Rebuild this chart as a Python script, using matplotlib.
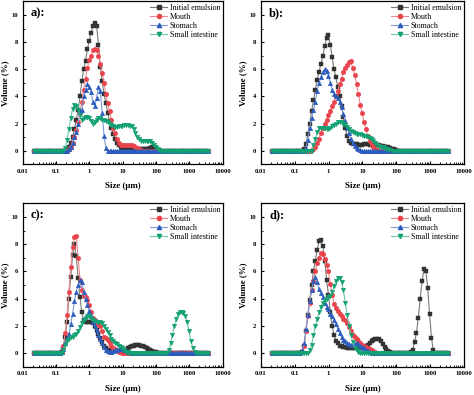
import matplotlib
matplotlib.use("Agg")
import matplotlib.pyplot as plt
from matplotlib.ticker import LogLocator, NullFormatter, FixedLocator, MultipleLocator

plt.rcParams['font.family'] = ['Liberation Serif', 'DejaVu Serif']

# Size classes (µm), laser-diffraction instrument grid
sizes = [0.02151, 0.02444, 0.02777, 0.03155, 0.03584, 0.04073, 0.04627, 0.05257, 0.05973, 0.06786,
         0.07711, 0.08761, 0.09952, 0.1131, 0.1285, 0.1460, 0.1659, 0.1884, 0.2141, 0.2432,
         0.2764, 0.3140, 0.3568, 0.4053, 0.4605, 0.5232, 0.5944, 0.6754, 0.7674, 0.8719,
         0.9905, 1.125, 1.279, 1.453, 1.651, 1.875, 2.131, 2.421, 2.750, 3.125,
         3.550, 4.034, 4.583, 5.207, 5.916, 6.721, 7.637, 8.677, 9.858, 11.20,
         12.73, 14.46, 16.43, 18.66, 21.21, 24.09, 27.37, 31.10, 35.33, 40.14,
         45.61, 51.82, 58.88, 66.90, 76.00, 86.36, 98.11, 111.5, 126.7, 143.9,
         163.5, 185.8, 211.1, 239.8, 272.5, 309.6, 351.8, 399.7, 454.1, 515.9,
         586.2, 666.0, 756.7, 859.7, 976.5, 1110, 1261, 1432, 1627, 1849,
         2101, 2387, 2712, 3081, 3500]

series_names = ["Initial emulsion", "Mouth", "Stomach", "Small intestine"]
panel_labels = ["a):", "b):", "c):", "d):"]
x_tick_values = [0.01, 0.1, 1, 10, 100, 1000, 10000]
x_tick_labels = ["0.01", "0.1", "1", "10", "100", "1000", "10000"]
y_tick_values = [0, 2, 4, 6, 8, 10]

# ---------------- panel a ----------------
initial_a = [0, 0, 0, 0, 0, 0, 0, 0, 0, 0, 0, 0, 0, 0, 0, 0, 0, 0, 0.1,
             0.3, 0.6, 1.0, 1.6, 2.3, 3.0, 4.0, 5.1, 6.0, 6.6, 7.5, 8.1, 8.7, 9.2, 9.4, 9.2, 7.8, 6.2, 5.1,
             4.2, 3.5, 2.8, 2.2, 1.7, 1.2, 0.9, 0.6, 0.4, 0.3, 0.2, 0.15, 0.1, 0.1, 0.1, 0.1, 0.1, 0.1, 0.1,
             0.1, 0.1, 0.1, 0.1, 0.1, 0.1, 0.2, 0.25, 0.25, 0.15, 0.05, 0, 0, 0, 0, 0, 0, 0, 0,
             0, 0, 0, 0, 0, 0, 0, 0, 0, 0, 0, 0, 0, 0, 0, 0, 0, 0, 0]
mouth_a = [0, 0, 0, 0, 0, 0, 0, 0, 0, 0, 0, 0, 0, 0, 0, 0, 0, 0, 0,
           0.1, 0.3, 0.6, 1.0, 1.5, 2.1, 2.8, 3.6, 4.5, 5.3, 6.1, 6.7, 7.0, 7.4, 7.5, 7.4, 7.0, 6.4, 5.7,
           5.0, 4.2, 3.5, 2.9, 2.3, 1.7, 1.3, 0.9, 0.6, 0.45, 0.4, 0.4, 0.4, 0.45, 0.45, 0.4, 0.35, 0.3, 0.2,
           0.1, 0.05, 0, 0, 0, 0, 0, 0, 0, 0, 0, 0, 0, 0, 0, 0, 0, 0, 0,
           0, 0, 0, 0, 0, 0, 0, 0, 0, 0, 0, 0, 0, 0, 0, 0, 0, 0, 0]
stomach_a = [0, 0, 0, 0, 0, 0, 0, 0, 0, 0, 0, 0, 0, 0, 0, 0, 0, 0, 0,
             0.1, 0.3, 0.6, 1.0, 1.4, 2.0, 2.9, 3.0, 4.0, 4.5, 4.9, 4.7, 4.3, 3.6, 3.3, 3.9, 4.7, 4.4, 2.8,
             1.1, 0.2, 0, 0, 0, 0, 0, 0, 0, 0, 0, 0, 0, 0, 0, 0, 0, 0, 0,
             0, 0, 0, 0, 0, 0, 0, 0, 0, 0, 0, 0, 0, 0, 0, 0, 0, 0, 0,
             0, 0, 0, 0, 0, 0, 0, 0, 0, 0, 0, 0, 0, 0, 0, 0, 0, 0, 0]
intestine_a = [0, 0, 0, 0, 0, 0, 0, 0, 0, 0, 0, 0, 0, 0, 0, 0, 0, 0.2, 0.8,
               1.6, 2.4, 3.1, 3.4, 3.3, 3.0, 2.6, 2.3, 2.4, 2.5, 2.5, 2.4, 2.2, 2.0, 2.1, 2.3, 2.4, 2.4, 2.3,
               2.3, 2.2, 2.1, 2.0, 1.9, 1.8, 1.75, 1.75, 1.8, 1.8, 1.85, 1.9, 1.9, 1.9, 1.85, 1.8, 1.6, 1.3, 1.0,
               0.85, 0.75, 0.7, 0.7, 0.75, 0.75, 0.7, 0.6, 0.45, 0.3, 0.15, 0.05, 0, 0, 0, 0, 0, 0, 0,
               0, 0, 0, 0, 0, 0, 0, 0, 0, 0, 0, 0, 0, 0, 0, 0, 0, 0, 0]

# ---------------- panel b ----------------
initial_b = [0, 0, 0, 0, 0, 0, 0, 0, 0, 0, 0, 0, 0, 0, 0, 0, 0, 0.1, 0.5,
             1.2, 2.0, 2.9, 3.7, 4.5, 5.2, 5.8, 6.4, 7.0, 7.7, 8.3, 8.5, 7.8, 6.9, 6.0, 5.4, 4.7, 4.0, 3.3,
             2.5, 1.7, 1.1, 0.75, 0.6, 0.5, 0.5, 0.5, 0.45, 0.45, 0.45, 0.5, 0.5, 0.5, 0.45, 0.45, 0.45, 0.4, 0.4,
             0.4, 0.35, 0.35, 0.3, 0.3, 0.25, 0.2, 0.15, 0.1, 0.05, 0, 0, 0, 0, 0, 0, 0, 0, 0,
             0, 0, 0, 0, 0, 0, 0, 0, 0, 0, 0, 0, 0, 0, 0, 0, 0, 0, 0]
mouth_b = [0, 0, 0, 0, 0, 0, 0, 0, 0, 0, 0, 0, 0, 0, 0, 0, 0, 0, 0,
           0, 0, 0.05, 0.15, 0.3, 0.6, 0.9, 1.3, 1.7, 2.0, 2.3, 2.6, 2.9, 3.3, 3.6, 4.0, 4.4, 4.9, 5.3,
           5.8, 6.1, 6.3, 6.55, 6.6, 6.1, 5.6, 4.9, 4.2, 3.4, 2.8, 2.1, 1.6, 1.05, 0.7, 0.45, 0.3, 0.15, 0.05,
           0, 0, 0, 0, 0, 0, 0, 0, 0, 0, 0, 0, 0, 0, 0, 0, 0, 0, 0,
           0, 0, 0, 0, 0, 0, 0, 0, 0, 0, 0, 0, 0, 0, 0, 0, 0, 0, 0]
stomach_b = [0, 0, 0, 0, 0, 0, 0, 0, 0, 0, 0, 0, 0, 0, 0, 0, 0, 0, 0.2,
             0.8, 1.7, 2.4, 3.0, 3.6, 4.4, 5.0, 5.4, 5.8, 6.0, 5.9, 5.5, 5.0, 4.5, 4.2, 4.0, 3.9, 3.6, 3.2,
             2.7, 2.2, 1.7, 1.3, 0.9, 0.6, 0.35, 0.2, 0.1, 0.05, 0, 0, 0, 0, 0, 0, 0, 0, 0,
             0, 0, 0, 0, 0, 0, 0, 0, 0, 0, 0, 0, 0, 0, 0, 0, 0, 0, 0,
             0, 0, 0, 0, 0, 0, 0, 0, 0, 0, 0, 0, 0, 0, 0, 0, 0, 0, 0]
intestine_b = [0, 0, 0, 0, 0, 0, 0, 0, 0, 0, 0, 0, 0, 0, 0, 0, 0, 0, 0,
               0, 0, 0, 0.4, 0.9, 1.4, 1.65, 1.7, 1.7, 1.65, 1.6, 1.6, 1.7, 1.8, 1.9, 2.0, 2.1, 2.15, 2.1,
               2.0, 1.9, 1.75, 1.6, 1.45, 1.35, 1.3, 1.25, 1.2, 1.2, 1.15, 1.1, 1.05, 1.0, 0.95, 0.85, 0.7, 0.6, 0.45,
               0.35, 0.3, 0.25, 0.2, 0.15, 0.1, 0.05, 0, 0, 0, 0, 0, 0, 0, 0, 0, 0, 0, 0,
               0, 0, 0, 0, 0, 0, 0, 0, 0, 0, 0, 0, 0, 0, 0, 0, 0, 0, 0]

# ---------------- panel c ----------------
initial_c = [0, 0, 0, 0, 0, 0, 0, 0, 0, 0, 0, 0, 0, 0, 0, 0.1, 0.4, 1.2, 2.3,
             4.0, 5.6, 7.2, 8.0, 7.1, 5.5, 4.1, 3.0, 2.4, 2.3, 2.3, 2.3, 2.3, 2.2, 2.0, 1.7, 1.4, 1.1, 0.8,
             0.55, 0.35, 0.25, 0.2, 0.15, 0.15, 0.15, 0.15, 0.15, 0.15, 0.2, 0.2, 0.25, 0.35, 0.45, 0.5, 0.55, 0.58, 0.6,
             0.58, 0.55, 0.5, 0.45, 0.4, 0.3, 0.25, 0.15, 0.1, 0.05, 0, 0, 0, 0, 0, 0, 0, 0, 0,
             0, 0, 0, 0, 0, 0, 0, 0, 0, 0, 0, 0, 0, 0, 0, 0, 0, 0, 0]
mouth_c = [0, 0, 0, 0, 0, 0, 0, 0, 0, 0, 0, 0, 0, 0, 0, 0.1, 0.5, 1.5, 2.8,
           4.5, 6.3, 7.8, 8.5, 8.6, 7.0, 5.4, 4.6, 4.2, 4.1, 3.9, 3.5, 3.0, 2.6, 2.4, 2.2, 2.1, 2.0, 1.6,
           1.2, 1.1, 0.95, 0.75, 0.55, 0.4, 0.3, 0.2, 0.1, 0.05, 0, 0, 0, 0, 0, 0, 0, 0, 0,
           0, 0, 0, 0, 0, 0, 0, 0, 0, 0, 0, 0, 0, 0, 0, 0, 0, 0, 0,
           0, 0, 0, 0, 0, 0, 0, 0, 0, 0, 0, 0, 0, 0, 0, 0, 0, 0, 0]
stomach_c = [0, 0, 0, 0, 0, 0, 0, 0, 0, 0, 0, 0, 0, 0, 0, 0.1, 0.3, 0.7, 1.1,
             1.4, 2.1, 2.9, 3.8, 4.5, 5.0, 5.4, 5.2, 4.5, 4.0, 3.5, 3.1, 2.7, 2.3, 2.0, 1.7, 1.3, 1.0, 0.7,
             0.45, 0.25, 0.15, 0.1, 0.1, 0.15, 0.2, 0.25, 0.3, 0.3, 0.3, 0.25, 0.2, 0.1, 0.05, 0, 0, 0, 0,
             0, 0, 0, 0, 0, 0, 0, 0, 0, 0, 0, 0, 0, 0, 0, 0, 0, 0, 0,
             0, 0, 0, 0, 0, 0, 0, 0, 0, 0, 0, 0, 0, 0, 0, 0, 0, 0, 0]
intestine_c = [0, 0, 0, 0, 0, 0, 0, 0, 0, 0, 0, 0, 0, 0, 0, 0, 0.2, 0.6, 0.9,
               1.05, 1.15, 1.2, 1.3, 1.4, 1.6, 1.9, 2.2, 2.4, 2.6, 2.7, 2.7, 2.6, 2.45, 2.35, 2.3, 2.3, 2.3, 2.2,
               2.0, 1.8, 1.55, 1.3, 1.05, 0.85, 0.75, 0.65, 0.55, 0.45, 0.35, 0.2, 0.1, 0.05, 0, 0, 0, 0, 0,
               0, 0, 0, 0, 0, 0, 0, 0, 0, 0, 0, 0, 0, 0, 0, 0, 0.2, 0.7, 1.3,
               2.0, 2.5, 2.85, 3.0, 3.05, 2.95, 2.7, 2.3, 1.6, 0.9, 0.4, 0.1, 0, 0, 0, 0, 0, 0, 0]

# ---------------- panel d ----------------
initial_d = [0, 0, 0, 0, 0, 0, 0, 0, 0, 0, 0, 0, 0, 0, 0, 0, 0.1, 0.5, 1.6,
             2.8, 3.9, 5.0, 6.0, 6.8, 7.6, 8.2, 8.3, 7.9, 6.8, 5.4, 4.3, 3.0, 2.0, 1.3, 0.9, 0.7, 0.55, 0.5,
             0.45, 0.45, 0.4, 0.4, 0.4, 0.4, 0.4, 0.4, 0.4, 0.4, 0.4, 0.45, 0.5, 0.6, 0.7, 0.85, 0.95, 1.0, 1.05,
             1.0, 0.85, 0.65, 0.45, 0.3, 0.15, 0.05, 0, 0, 0, 0, 0, 0, 0, 0, 0, 0, 0.05, 0.2,
             0.8, 1.5, 2.6, 4.0, 5.3, 6.15, 6.05, 4.8, 2.9, 1.1, 0.2, 0, 0, 0, 0, 0, 0, 0, 0]
mouth_d = [0, 0, 0, 0, 0, 0, 0, 0, 0, 0, 0, 0, 0, 0, 0, 0, 0.1, 0.5, 1.6,
           2.7, 3.7, 4.6, 5.3, 6.0, 6.6, 7.0, 7.35, 7.3, 6.9, 6.5, 6.0, 5.1, 4.3, 3.6, 3.3, 3.1, 2.9, 2.7,
           2.5, 2.4, 2.2, 1.9, 1.6, 1.3, 1.15, 1.0, 0.85, 0.7, 0.6, 0.55, 0.45, 0.4, 0.3, 0.2, 0.1, 0.05, 0,
           0, 0, 0, 0, 0, 0, 0, 0, 0, 0, 0, 0, 0, 0, 0, 0, 0, 0, 0,
           0, 0, 0, 0, 0, 0, 0, 0, 0, 0, 0, 0, 0, 0, 0, 0, 0, 0, 0]
stomach_d = [0, 0, 0, 0, 0, 0, 0, 0, 0, 0, 0, 0, 0, 0, 0, 0, 0.2, 0.7, 1.8,
             2.8, 3.8, 4.6, 5.3, 5.6, 5.2, 4.7, 4.4, 4.1, 3.7, 3.4, 3.2, 2.9, 2.7, 2.4, 2.1, 1.8, 1.45, 1.15,
             0.95, 0.85, 0.75, 0.65, 0.6, 0.6, 0.65, 0.7, 0.65, 0.55, 0.45, 0.35, 0.25, 0.15, 0.05, 0, 0, 0, 0,
             0, 0, 0, 0, 0, 0, 0, 0, 0, 0, 0, 0, 0, 0, 0, 0, 0, 0, 0,
             0, 0, 0, 0, 0, 0, 0, 0, 0, 0, 0, 0, 0, 0, 0, 0, 0, 0, 0]
intestine_d = [0, 0, 0, 0, 0, 0, 0, 0, 0, 0, 0, 0, 0, 0, 0, 0, 0, 0, 0,
               0, 0.2, 0.6, 1.3, 2.0, 2.5, 3.0, 3.4, 3.7, 3.9, 4.0, 4.1, 4.2, 4.5, 4.9, 5.3, 5.5, 5.5, 5.2,
               4.6, 3.7, 2.8, 2.0, 1.3, 0.8, 0.4, 0.2, 0.05, 0, 0, 0, 0, 0, 0, 0, 0, 0, 0,
               0, 0, 0, 0, 0, 0, 0, 0, 0, 0, 0, 0, 0, 0, 0, 0, 0, 0, 0,
               0, 0, 0, 0, 0, 0, 0, 0, 0, 0, 0, 0, 0, 0, 0, 0, 0, 0, 0]

panels = [
    [initial_a, mouth_a, stomach_a, intestine_a],
    [initial_b, mouth_b, stomach_b, intestine_b],
    [initial_c, mouth_c, stomach_c, intestine_c],
    [initial_d, mouth_d, stomach_d, intestine_d],
]

marker_colors = ["#333333", "#e8444c", "#2a5cbd", "#13a173"]
line_colors = ["#7a7a7a", "#f08a8e", "#7d9bd8", "#6cc6a3"]
markers = ["s", "o", "^", "v"]

W, H = 474, 395
fig = plt.figure(figsize=(W / 100, H / 100), dpi=100)

# axes rectangles in pixels (left, top, right, bottom)
rects = [(22.7, 1.4, 222.7, 164.3), (261.0, 1.4, 463.7, 164.3),
         (22.7, 203.4, 222.7, 366.6), (261.0, 203.4, 463.7, 366.6)]

for p, (data, lab, r) in enumerate(zip(panels, panel_labels, rects)):
    l, t, rr, b = r
    ax = fig.add_axes([l / W, 1 - b / H, (rr - l) / W, (b - t) / H])
    for s in range(4):
        ax.plot(sizes, data[s], color=line_colors[s], lw=0.8, zorder=2 + s)
        ax.plot(sizes, data[s], linestyle='none', marker=markers[s], ms=3.3,
                mfc=marker_colors[s], mec=marker_colors[s], mew=0.3, zorder=2.5 + s)
        # legend proxies
        ax.plot([], [], color=line_colors[s], lw=0.8, marker=markers[s], ms=3.0,
                mfc=marker_colors[s], mec=marker_colors[s], label=series_names[s])
    ax.set_xscale('log')
    ax.set_xlim(0.01, 10000)
    ax.set_ylim(-1, 11)
    ax.xaxis.set_major_locator(FixedLocator(x_tick_values))
    ax.set_xticklabels(x_tick_labels)
    ax.xaxis.set_minor_locator(LogLocator(base=10, subs=range(2, 10), numticks=20))
    ax.xaxis.set_minor_formatter(NullFormatter())
    ax.set_yticks(y_tick_values)
    ax.yaxis.set_minor_locator(MultipleLocator(1))
    ax.tick_params(which='major', direction='in', length=2.5, width=0.8, labelsize=4.8, pad=3.5)
    ax.tick_params(which='minor', direction='in', length=1.3, width=0.6)
    for lbl in ax.get_xticklabels() + ax.get_yticklabels():
        lbl.set_fontweight('bold')
    for sp in ax.spines.values():
        sp.set_linewidth(0.9)
    ax.set_xlabel("Size (μm)", fontsize=6.4, fontweight='bold', labelpad=6)
    ax.set_ylabel("Volume (%)", fontsize=6.4, fontweight='bold', labelpad=1.5)
    ax.text(0.04, 0.93, lab, transform=ax.transAxes, fontsize=9, fontweight='bold',
            ha='left', va='center')
    handles, labels = ax.get_legend_handles_labels()
    ax.legend(handles[-4:], labels[-4:], loc='upper right', frameon=False, fontsize=5.8,
              handlelength=2.2, handletextpad=0.3, labelspacing=0.12, borderaxespad=0.1,
              borderpad=0.2)

fig.savefig("out.png", dpi=100)
